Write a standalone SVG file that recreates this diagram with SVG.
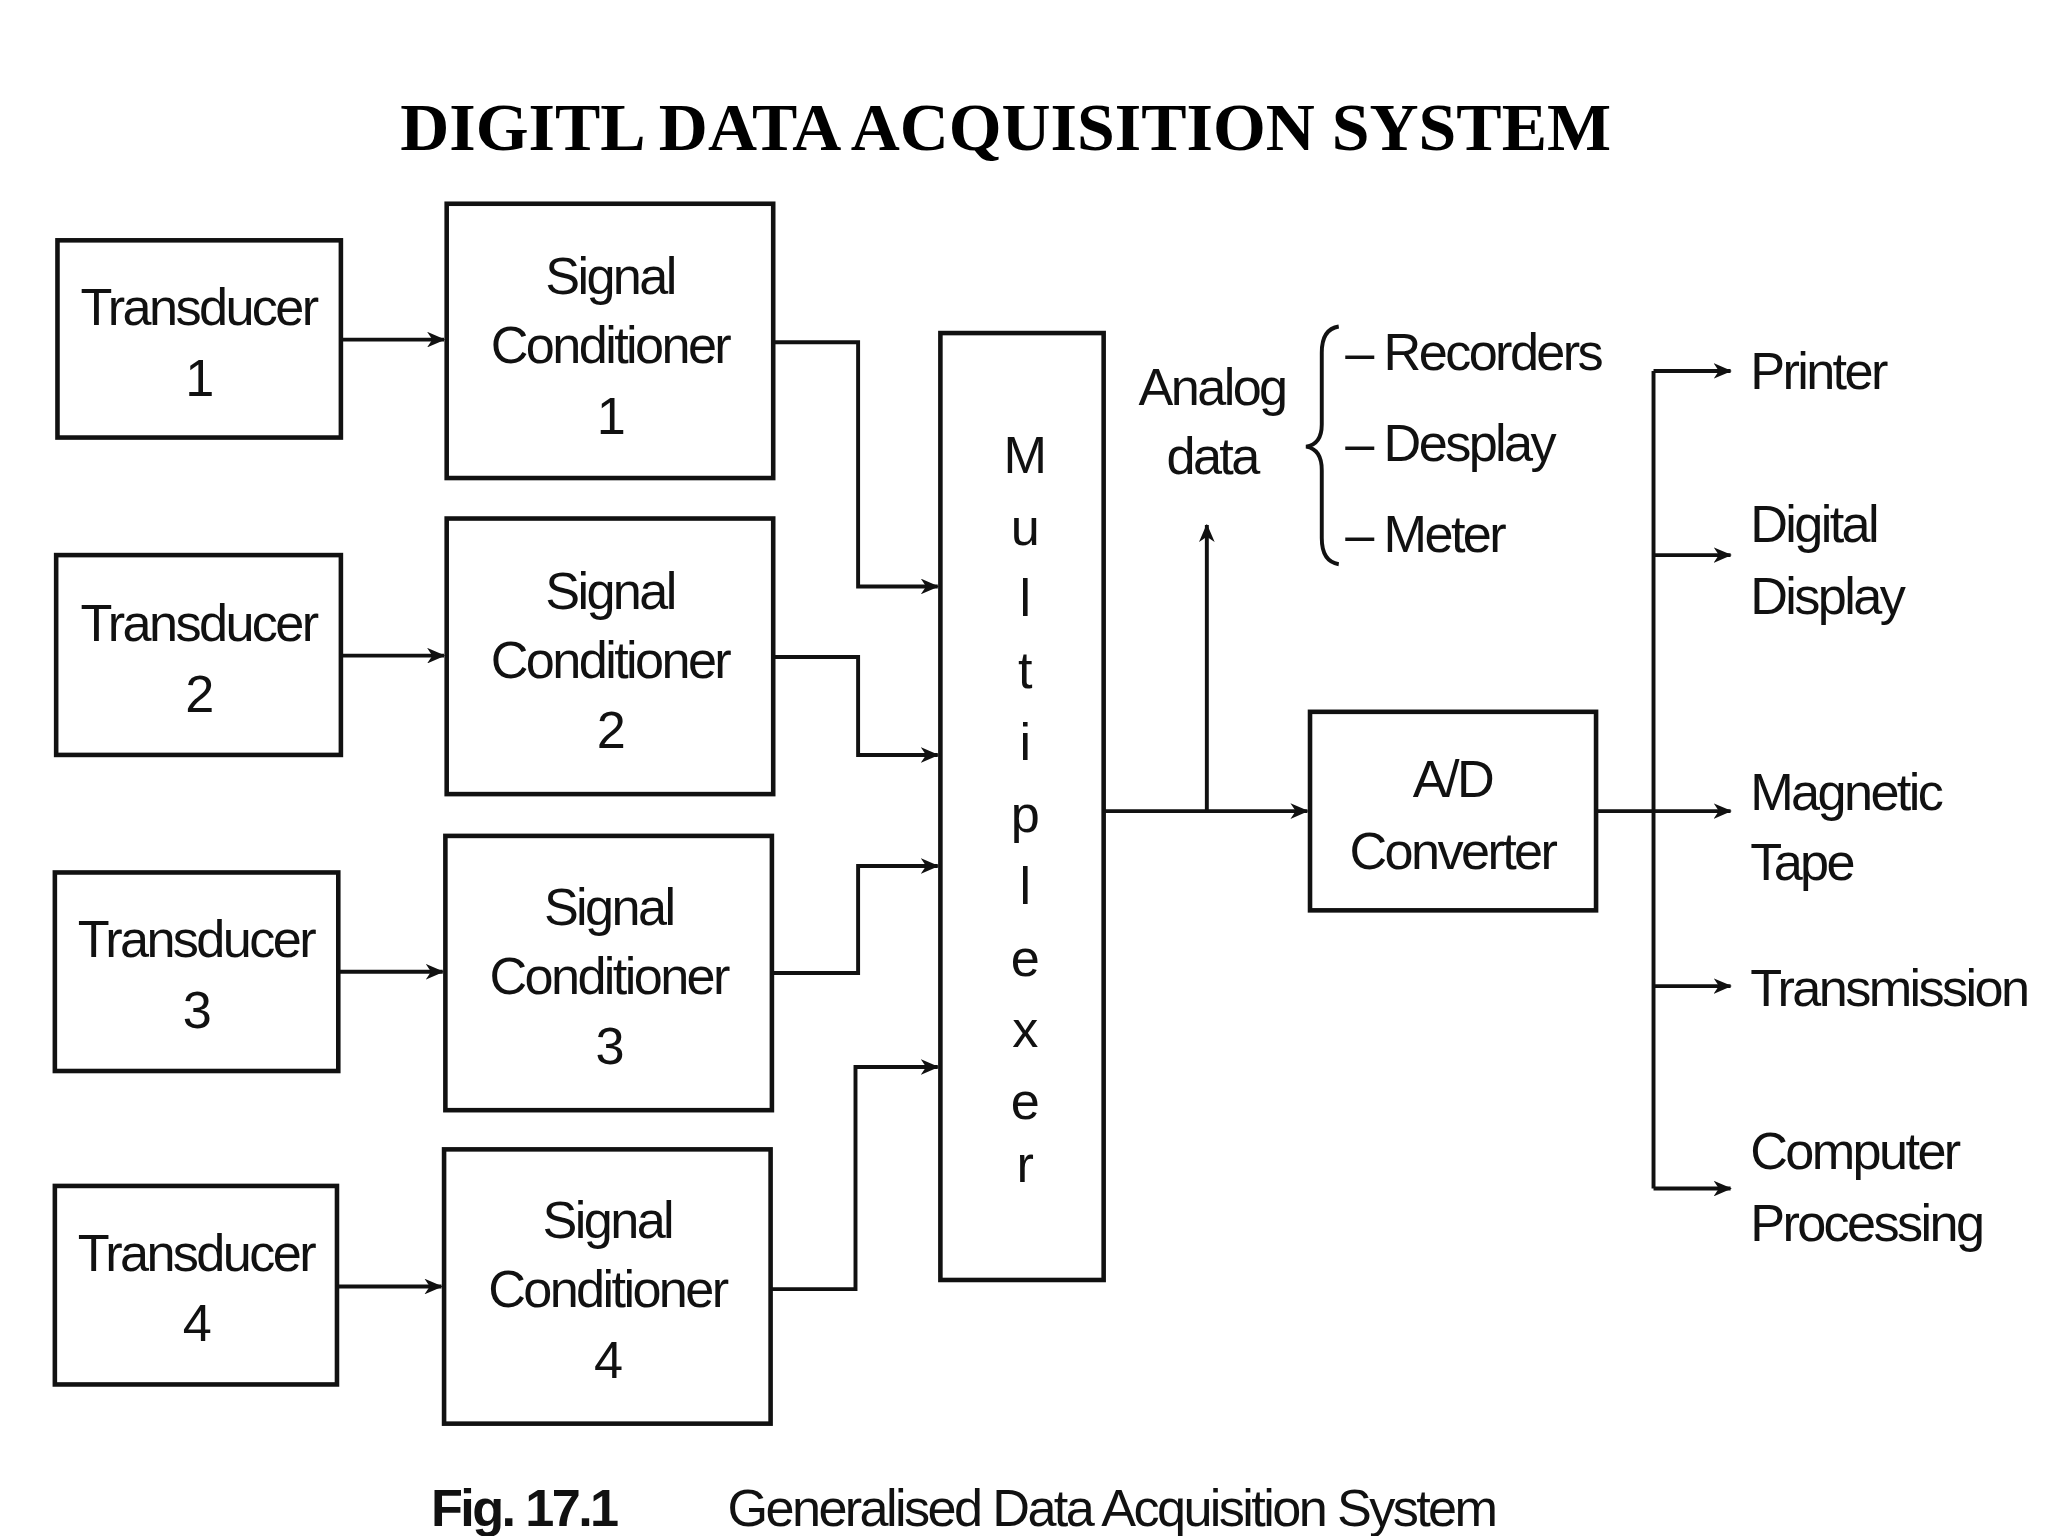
<svg xmlns="http://www.w3.org/2000/svg" width="2048" height="1536" viewBox="0 0 2048 1536">
<defs>
<marker id="ah" markerWidth="14" markerHeight="12" refX="13" refY="6" orient="auto" markerUnits="userSpaceOnUse"><path d="M0,0 L14,6 L0,12 L4,6 Z" fill="#111"/></marker>
<style>
.b{fill:#fff;stroke:#111;stroke-width:3.5}
.t{font-family:"Liberation Sans",Arial,sans-serif;font-size:40px;fill:#111;text-anchor:middle;letter-spacing:-2px}
.l{font-family:"Liberation Sans",Arial,sans-serif;font-size:40px;fill:#111;letter-spacing:-2px}
.c{fill:none;stroke:#111;stroke-width:3}
</style>
</defs>
<rect width="2048" height="1536" fill="#fff"/>
<g transform="scale(1.3061)">
<text x="770" y="115" style="font-family:'Liberation Serif',serif;font-weight:bold;font-size:52px;text-anchor:middle">DIGITL DATA ACQUISITION SYSTEM</text>
<g id="t1"><rect class="b" x="44" y="184" width="217" height="151"/><text class="t" x="152" y="249">Transducer</text><text class="t" x="152" y="303">1</text></g>
<g id="t2"><rect class="b" x="43" y="425" width="218" height="153"/><text class="t" x="152" y="491">Transducer</text><text class="t" x="152" y="545">2</text></g>
<g id="t3"><rect class="b" x="42" y="668" width="217" height="152"/><text class="t" x="150" y="733">Transducer</text><text class="t" x="150" y="787">3</text></g>
<g id="t4"><rect class="b" x="42" y="908" width="216" height="152"/><text class="t" x="150" y="973">Transducer</text><text class="t" x="150" y="1027">4</text></g>
<g id="s1"><rect class="b" x="342" y="156" width="250" height="210"/><text class="t" x="467" y="225">Signal</text><text class="t" x="467" y="278">Conditioner</text><text class="t" x="467" y="332">1</text></g>
<g id="s2"><rect class="b" x="342" y="397" width="250" height="211"/><text class="t" x="467" y="466">Signal</text><text class="t" x="467" y="519">Conditioner</text><text class="t" x="467" y="573">2</text></g>
<g id="s3"><rect class="b" x="341" y="640" width="250" height="210"/><text class="t" x="466" y="708">Signal</text><text class="t" x="466" y="761">Conditioner</text><text class="t" x="466" y="815">3</text></g>
<g id="s4"><rect class="b" x="340" y="880" width="250" height="210"/><text class="t" x="465" y="948">Signal</text><text class="t" x="465" y="1001">Conditioner</text><text class="t" x="465" y="1055">4</text></g>
<g id="mux"><rect class="b" x="720" y="255" width="125" height="725"/>
<text class="t" x="784" y="362">M</text><text class="t" x="784" y="417">u</text><text class="t" x="784" y="472">l</text><text class="t" x="784" y="527">t</text><text class="t" x="784" y="582">i</text><text class="t" x="784" y="637">p</text><text class="t" x="784" y="692">l</text><text class="t" x="784" y="747">e</text><text class="t" x="784" y="802">x</text><text class="t" x="784" y="857">e</text><text class="t" x="784" y="905">r</text></g>
<g id="adc"><rect class="b" x="1003" y="545" width="219" height="152"/><text class="t" x="1112" y="610">A/D</text><text class="t" x="1112" y="665">Converter</text></g>
<g id="analog"><text class="t" x="928" y="310">Analog</text><text class="t" x="928" y="363">data</text>
<path class="c" stroke-width="2.5" d="M1025,250 Q1012,252 1012,270 L1012,325 Q1012,340 1000,342 Q1012,344 1012,360 L1012,412 Q1012,430 1025,432"/>
<text class="l" x="1030" y="283">– Recorders</text><text class="l" x="1030" y="353">– Desplay</text><text class="l" x="1030" y="423">– Meter</text></g>
<g id="outputs"><text class="l" x="1340" y="298">Printer</text><text class="l" x="1340" y="415">Digital</text><text class="l" x="1340" y="470">Display</text><text class="l" x="1340" y="620">Magnetic</text><text class="l" x="1340" y="674">Tape</text><text class="l" x="1340" y="770">Transmission</text><text class="l" x="1340" y="895">Computer</text><text class="l" x="1340" y="950">Processing</text></g>
<g id="connectors">
<path class="c" marker-end="url(#ah)" d="M261,260 H340"/>
<path class="c" marker-end="url(#ah)" d="M261,502 H340"/>
<path class="c" marker-end="url(#ah)" d="M259,744 H339"/>
<path class="c" marker-end="url(#ah)" d="M258,985 H338"/>
<path class="c" marker-end="url(#ah)" d="M592,262 H657 V449 H718"/>
<path class="c" marker-end="url(#ah)" d="M592,503 H657 V578 H718"/>
<path class="c" marker-end="url(#ah)" d="M591,745 H657 V663 H718"/>
<path class="c" marker-end="url(#ah)" d="M590,987 H655 V817 H718"/>
<path class="c" marker-end="url(#ah)" d="M845,621 H1001"/>
<path class="c" marker-end="url(#ah)" d="M924,621 V402"/>
<path class="c" d="M1222,621 H1266 M1266,284 V910"/>
<path class="c" marker-end="url(#ah)" d="M1266,284 H1325"/>
<path class="c" marker-end="url(#ah)" d="M1266,425 H1325"/>
<path class="c" marker-end="url(#ah)" d="M1266,621 H1325"/>
<path class="c" marker-end="url(#ah)" d="M1266,755 H1325"/>
<path class="c" marker-end="url(#ah)" d="M1266,910 H1325"/>
</g>
<text class="l" x="330" y="1168" font-weight="bold">Fig. 17.1</text>
<text class="l" x="557" y="1168">Generalised Data Acquisition System</text>
</g>
</svg>
